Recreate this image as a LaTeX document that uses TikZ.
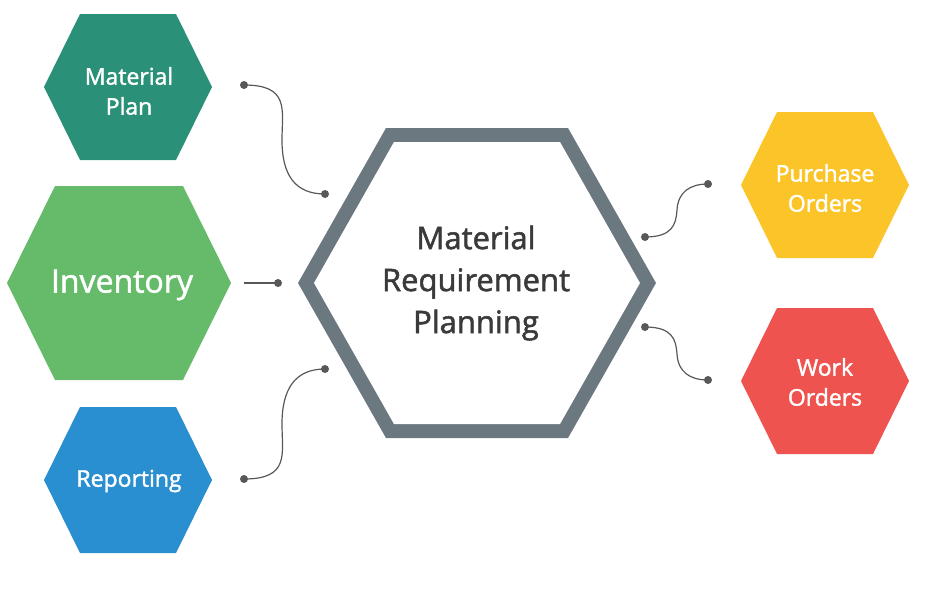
\documentclass[tikz,border=0pt]{standalone}
\usepackage{fontspec}
\setmainfont{Open Sans}
\newfontfamily\semib{Open Sans}[FakeBold=1.6]
\definecolor{mplan}{HTML}{2A9178}
\definecolor{minv}{HTML}{66BB6A}
\definecolor{mrep}{HTML}{2A8FD0}
\definecolor{mpur}{HTML}{FBC52A}
\definecolor{mwork}{HTML}{EF5350}
\definecolor{mgray}{HTML}{6B7880}
\definecolor{mtext}{HTML}{3A3A3A}
\tikzset{
  txt/.style={text=white,align=center,font=\semib\fontsize{23}{30}\selectfont},
  dot/.style={circle,fill=mtext!85,inner sep=0pt,minimum size=8pt},
  link/.style={draw=mtext!85,line width=1.2pt},
}
\newcommand{\hexa}[6]{% color, cx, cy, half width, half top, half height
  \fill[#1] (#2-#4,#3) -- (#2-#5,#3-#6) -- (#2+#5,#3-#6) -- (#2+#4,#3) -- (#2+#5,#3+#6) -- (#2-#5,#3+#6) -- cycle;}
\begin{document}
\begin{tikzpicture}[x=1pt,y=-1pt]
  \useasboundingbox (0,0) rectangle (945,592);
  %hexagons
  \hexa{mplan}{128}{87}{84}{48}{73}
  \hexa{minv}{119}{283}{112}{64}{97}
  \hexa{mrep}{128}{480}{84}{48}{73}
  \hexa{mpur}{825}{185}{84}{48}{73}
  \hexa{mwork}{825}{381}{84}{48}{73}
  %central shape
  \hexa{mgray}{477}{283}{179}{91}{155}
  \hexa{white}{477}{283}{163}{83}{141}
  % Text Node
  \node[txt] (plan) at (129,91) {Material\\Plan};
  \node[txt,font=\semib\fontsize{32}{36}\selectfont] (inv) at (122,285) {Inventory};
  \node[txt] (rep) at (129,481) {Reporting};
  \node[txt] (pur) at (825,188) {Purchase\\Orders};
  \node[txt] (work) at (825,382) {Work\\Orders};
  \node[txt,text=mtext,font=\semib\fontsize{31}{42}\selectfont] (mrp) at (476,283) {Material\\Requirement\\Planning};
  %dots
  \node[dot] (d1) at (244,85) {};
  \node[dot] (d2) at (325,194) {};
  \node[dot] (d3) at (278,283) {};
  \coordinate (c3) at (244,283);
  \node[dot] (d4) at (244,479) {};
  \node[dot] (d5) at (325,369) {};
  \node[dot] (d6) at (645,237) {};
  \node[dot] (d7) at (708,184) {};
  \node[dot] (d8) at (645,327) {};
  \node[dot] (d9) at (708,380) {};
  %connectors
  \draw[link] (d1.center) .. controls (290,85) and (282,110) .. (282,140) .. controls (282,175) and (295,194) .. (d2.center);
  \draw[link] (d3.center) -- (c3);
  \draw[link] (d4.center) .. controls (290,479) and (282,454) .. (282,424) .. controls (282,389) and (295,369) .. (d5.center);
  \draw[link] (d6.center) .. controls (672,237) and (676,225) .. (677,210) .. controls (678,192) and (690,184) .. (d7.center);
  \draw[link] (d8.center) .. controls (672,327) and (676,339) .. (677,354) .. controls (678,372) and (690,380) .. (d9.center);
\end{tikzpicture}
\end{document}
